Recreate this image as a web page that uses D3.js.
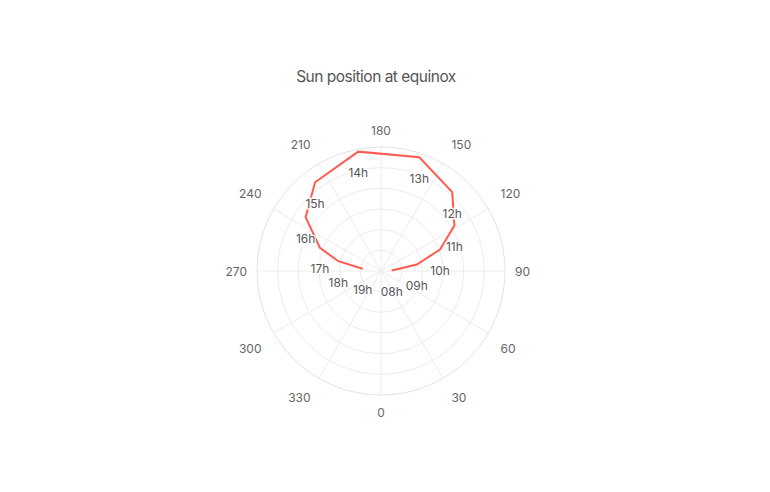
<!DOCTYPE html>
<html>
<head>
<meta charset="utf-8">
<script src="https://cdn.jsdelivr.net/npm/d3@7"></script>
<style>
  body { margin: 0; background: #fff; }
  svg { display: block; font-family: Inter, "Noto Sans", sans-serif; }
</style>
</head>
<body>
<svg id="chart" width="770" height="492"></svg>
<script>
// sun path, one point per hour
var hours = ['08h', '09h', '10h', '11h', '12h', '13h', '14h', '15h', '16h', '17h', '18h', '19h'];
var azimuth = [92.7, 100.3, 110.0, 121.8, 137.9, 161.4, 190.8, 216.6, 234.5, 249.2, 257.1, 263.1];
var altitude = [5.2, 17.6, 30.4, 41.8, 51.4, 58.1, 58.8, 53.5, 44.8, 31.6, 21.2, 8.9];
var angleTicks = [0, 30, 60, 90, 120, 150, 180, 210, 240, 270, 300, 330];
var radialTicks = [10, 20, 30, 40, 50, 60];

var cx = 381, cy = 271, R = 124;
var svg = d3.select('#chart');

svg.append('text')
   .attr('x', 376)
   .attr('y', 82)
   .attr('text-anchor', 'middle')
   .attr('font-size', '15.5px')
   .attr('letter-spacing', '-0.5px')
   .attr('fill', '#555')
   .text('Sun position at equinox');

var r = d3.scaleLinear().domain([0, 60]).range([0, R]);
// 0 at the bottom, counting towards the right (lineRadial angle 0 = top, clockwise)
var a = d3.scaleLinear().domain([0, 360]).range([Math.PI, -Math.PI]);

var g = svg.append('g').attr('transform', 'translate(' + cx + ',' + cy + ')');

function px(deg, rad) { return rad * Math.sin(a(deg)); }
function py(deg, rad) { return -rad * Math.cos(a(deg)); }
function sgn(v) { return Math.abs(v) < 0.01 ? 0 : (v > 0 ? 1 : -1); }

g.selectAll('circle.ring')
 .data(radialTicks)
 .enter()
 .append('circle')
 .attr('class', 'ring')
 .attr('r', d => r(d))
 .attr('fill', 'none')
 .attr('stroke', d => d === 60 ? '#e3e3e3' : '#ececec')
 .attr('stroke-width', 1);

g.selectAll('line.spoke')
 .data(angleTicks)
 .enter()
 .append('line')
 .attr('class', 'spoke')
 .attr('x1', 0).attr('y1', 0)
 .attr('x2', d => px(d, R))
 .attr('y2', d => py(d, R))
 .attr('stroke', '#ececec')
 .attr('stroke-width', 1);

// angle labels: box corner hooked just past the rim
g.selectAll('text.angle')
 .data(angleTicks)
 .enter()
 .append('text')
 .attr('class', 'angle')
 .attr('text-anchor', 'middle')
 .attr('dominant-baseline', 'central')
 .attr('font-size', '12px')
 .attr('fill', '#666')
 .text(d => d)
 .each(function(d) {
   var w = this.getComputedTextLength();
   var s = Math.sin(a(d)), c = -Math.cos(a(d));
   var extra = 4 * Math.abs(Math.sin(2 * a(d)));
   var x = s * (R + 10) + sgn(s) * (w / 2 + extra);
   var y = c * (R + 10) + sgn(c) * (7 + extra);
   d3.select(this).attr('x', x).attr('y', y);
 });

var pts = hours.map((h, i) => ({hour: h, az: azimuth[i], alt: altitude[i]}));

var line = d3.lineRadial()
  .angle(d => a(d.az))
  .radius(d => r(d.alt));

g.append('path')
 .datum(pts)
 .attr('d', line)
 .attr('fill', 'none')
 .attr('stroke', '#ff5b4f')
 .attr('stroke-width', 2);

g.selectAll('text.hour')
 .data(pts)
 .enter()
 .append('text')
 .attr('class', 'hour')
 .attr('x', d => px(d.az, r(d.alt)))
 .attr('y', d => py(d.az, r(d.alt)) + 21)
 .attr('text-anchor', 'middle')
 .attr('dominant-baseline', 'central')
 .attr('font-size', '12px')
 .attr('fill', '#555')
 .attr('stroke', '#fff')
 .attr('stroke-width', 3)
 .attr('stroke-opacity', 0.8)
 .attr('paint-order', 'stroke')
 .text(d => d.hour);
</script>
</body>
</html>
